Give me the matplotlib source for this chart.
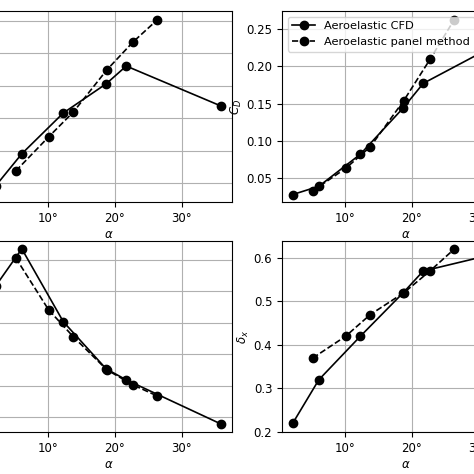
import matplotlib
matplotlib.use("Agg")
import matplotlib.pyplot as plt
from matplotlib.ticker import FuncFormatter

alpha_cfd = [2.2, 6.1, 12.3, 18.7, 21.7, 35.8]
alpha_pm = [5.2, 10.1, 13.8, 18.8, 22.7, 26.3]
cl_cfd = [0.91, 1.9, 3.16, 4.06, 4.61, 3.38]
cl_pm = [1.37, 2.42, 3.19, 4.49, 5.35, 6.03]
cd_cfd = [0.028, 0.039, 0.082, 0.144, 0.177, 0.244]
cd_pm = [0.033, 0.063, 0.092, 0.154, 0.209, 0.262]
cm_cfd = [5.17, 6.35, 4.03, 2.53, 2.18, 0.78]
cm_pm = [6.06, 4.41, 3.55, 2.50, 2.02, 1.67]
dx_cfd = [0.22, 0.32, 0.42, 0.52, 0.57, 0.622]
dx_pm = [0.37, 0.42, 0.47, 0.52, 0.57, 0.62]

W = H = 474
fig = plt.figure(figsize=(4.74, 4.74), dpi=100)
def ax_px(l, t, r, b):
    return fig.add_axes([l / W, 1 - b / H, (r - l) / W, (b - t) / H])

axes = [ax_px(-15, 11, 232, 202), ax_px(282, 11, 529, 202),
        ax_px(-15, 241, 232, 432), ax_px(282, 241, 529, 432)]
data = [(cl_cfd, cl_pm, (0.41, 6.31), None),
        (cd_cfd, cd_pm, (0.018, 0.274), r"$C_D$"),
        (cm_cfd, cm_pm, (0.52, 6.6), None),
        (dx_cfd, dx_pm, (0.2, 0.639), r"$\delta_x$")]
deg = FuncFormatter(lambda v, p: f"{v:.0f}°")
for i, (ax, (c, p, yl, lab)) in enumerate(zip(axes, data)):
    ax.plot(alpha_cfd, c, "k-o", ms=6, lw=1.2, label="Aeroelastic CFD")
    ax.plot(alpha_pm, p, "k--o", ms=6, lw=1.2, label="Aeroelastic panel method")
    ax.set_xlim(0.6, 37.5)
    ax.set_ylim(*yl)
    ax.set_xticks([10, 20, 30])
    ax.xaxis.set_major_formatter(deg)
    ax.grid(True, color="#b0b0b0", lw=0.8)
    ax.set_xlabel(r"$\alpha$", fontsize=8.5, labelpad=2)
    ax.tick_params(labelsize=8.5)
    if lab:
        ax.set_ylabel(lab, fontsize=8.5, labelpad=2)
    else:
        ax.set_yticks([1, 2, 3, 4, 5, 6])
        ax.tick_params(axis="y", labelleft=False)
axes[1].set_yticks([0.05, 0.10, 0.15, 0.20, 0.25])
axes[3].set_yticks([0.2, 0.3, 0.4, 0.5, 0.6])
axes[1].legend(loc="upper left", fontsize=8.2)
fig.savefig("out.png", dpi=100)
